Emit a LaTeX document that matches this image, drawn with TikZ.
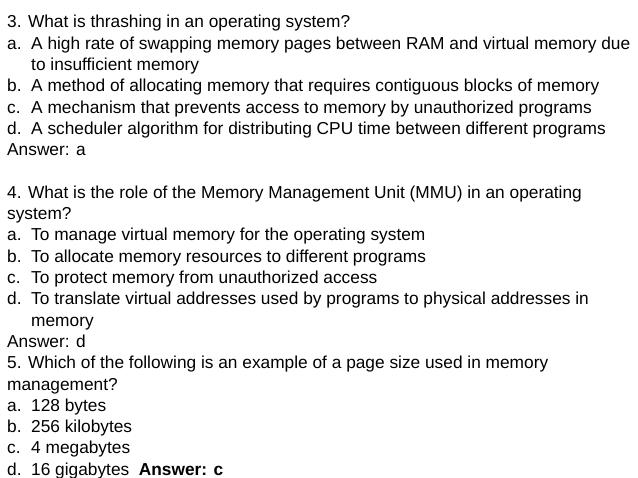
\documentclass[tikz,border=0pt]{standalone}
\usepackage{fontspec}
\setmainfont{Liberation Sans}
\begin{document}
\begin{tikzpicture}[x=1pt,y=-1pt,txt/.style={anchor=base west,inner sep=0pt,font=\fontsize{17.3}{20}\selectfont}]
\useasboundingbox (0,0) rectangle (638,478);
\clip (0,0) rectangle (638,478);
\fill[white] (0,0) rectangle (638,478);
\def\L#1#2#3{\node[txt] (n#1) at (#2,{28+21.3*#1}) {#3};}
\L{0}{7}{3. What is thrashing in an operating system?}
\L{1}{7}{a.}\node[txt] (t1) at (31,{28+21.3*1}) {A high rate of swapping memory pages between RAM and virtual memory due};
\L{2}{31}{to insufficient memory}
\L{3}{7}{b.}\node[txt] (t3) at (31,{28+21.3*3}) {A method of allocating memory that requires contiguous blocks of memory};
\L{4}{7}{c.}\node[txt] (t4) at (31,{28+21.3*4}) {A mechanism that prevents access to memory by unauthorized programs};
\L{5}{7}{d.}\node[txt] (t5) at (31,{28+21.3*5}) {A scheduler algorithm for distributing CPU time between different programs};
\L{6}{7}{Answer: a}
\L{8}{7}{4. What is the role of the Memory Management Unit (MMU) in an operating}
\L{9}{7}{system?}
\L{10}{7}{a.}\node[txt] (t10) at (31,{28+21.3*10}) {To manage virtual memory for the operating system};
\L{11}{7}{b.}\node[txt] (t11) at (31,{28+21.3*11}) {To allocate memory resources to different programs};
\L{12}{7}{c.}\node[txt] (t12) at (31,{28+21.3*12}) {To protect memory from unauthorized access};
\L{13}{7}{d.}\node[txt] (t13) at (31,{28+21.3*13}) {To translate virtual addresses used by programs to physical addresses in};
\L{14}{31}{memory}
\L{15}{7}{Answer: d}
\L{16}{7}{5. Which of the following is an example of a page size used in memory}
\L{17}{7}{management?}
\L{18}{7}{a.}\node[txt] (t18) at (31,{28+21.3*18}) {128 bytes};
\L{19}{7}{b.}\node[txt] (t19) at (31,{28+21.3*19}) {256 kilobytes};
\L{20}{7}{c.}\node[txt] (t20) at (31,{28+21.3*20}) {4 megabytes};
\L{21}{7}{d.}\node[txt] (t21) at (31,{28+21.3*21}) {16 gigabytes\ \ \textbf{Answer: c}};
\end{tikzpicture}
\end{document}
